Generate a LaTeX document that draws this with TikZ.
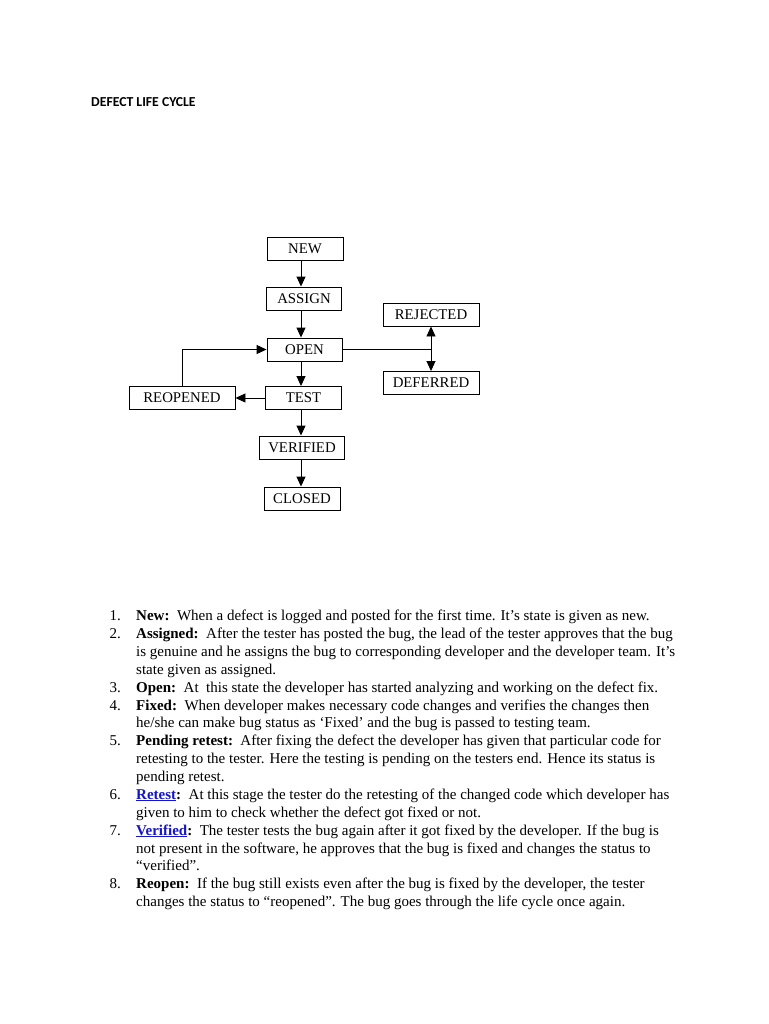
\documentclass[tikz,border=0pt]{standalone}
\usepackage{fontspec}
\setmainfont{Liberation Serif}
\newfontfamily\titlefont{Carlito}
\usetikzlibrary{arrows.meta}
\definecolor{linkblue}{RGB}{20,20,200}
\newcommand{\lnk}[1]{\textcolor{linkblue}{\underline{#1}}}
\begin{document}
\begin{tikzpicture}[x=1pt,y=-1pt,
  state/.style={draw=black,line width=0.9pt,minimum height=23pt,inner sep=0pt,font=\fontsize{14.8}{16}\selectfont},
  flow/.style={line width=0.9pt,-{Triangle[length=10pt,width=9pt]}},
  txt/.style={anchor=base west,inner sep=0pt,font=\fontsize{15}{18}\selectfont},
  num/.style={anchor=base east,inner sep=0pt,font=\fontsize{15}{18}\selectfont}]
\useasboundingbox[fill=white] (0,0) rectangle (768,1024);
\node[anchor=base west,inner sep=0pt,font=\titlefont\bfseries\fontsize{13.7}{16}\selectfont] (title) at (91,106.5) {DEFECT LIFE CYCLE};
% states
\node[state,minimum width=76pt] (new) at (305,248.5) {NEW};
\node[state,minimum width=75pt] (assign) at (304,298.5) {ASSIGN};
\node[state,minimum width=75pt] (open) at (304.5,349.5) {OPEN};
\node[state,minimum width=96pt] (rejected) at (431,314.5) {REJECTED};
\node[state,minimum width=96pt] (deferred) at (431,383) {DEFERRED};
\node[state,minimum width=106pt] (reopened) at (182,398) {REOPENED};
\node[state,minimum width=76pt] (test) at (303.5,398) {TEST};
\node[state,minimum width=85pt] (verified) at (302,447.5) {VERIFIED};
\node[state,minimum width=76pt] (closed) at (302,498.5) {CLOSED};
\coordinate (axis) at (301,0);
% connectors
\draw[flow] (new.south -| axis) -- (assign.north -| axis);
\draw[flow] (assign.south -| axis) -- (open.north -| axis);
\draw[flow] (open.south -| axis) -- (test.north -| axis);
\draw[flow] (test.south -| axis) -- (verified.north -| axis);
\draw[flow] (verified.south -| axis) -- (closed.north -| axis);
\draw[flow] (test.west) -- (reopened.east);
\draw[flow] (reopened.north) |- (open.west);
\coordinate (j) at (rejected.south |- open.east);
\draw[line width=0.9pt] (open.east) -- (j);
\draw[line width=0.9pt,{Triangle[length=10pt,width=9pt]}-{Triangle[length=10pt,width=9pt]}] (rejected.south) -- (deferred.north);
% list
\node[num] (n1) at (121,620) {1.};
\node[txt] (l1) at (136,620) {\textbf{New:}\ \ When a defect is logged and posted for the first time. It’s state is given as new.};
\node[num] (n2) at (121,638) {2.};
\node[txt] (l2) at (136,638) {\textbf{Assigned:}\ \ After the tester has posted the bug, the lead of the tester approves that the bug};
\node[txt] (l2b) at (136,656) {is genuine and he assigns the bug to corresponding developer and the developer team. It’s};
\node[txt] (l2c) at (136,674) {state given as assigned.};
\node[num] (n3) at (121,692) {3.};
\node[txt] (l3) at (136,692) {\textbf{Open:}\ \ At\ \ this state the developer has started analyzing and working on the defect fix.};
\node[num] (n4) at (121,710) {4.};
\node[txt] (l4) at (136,710) {\textbf{Fixed:}\ \ When developer makes necessary code changes and verifies the changes then};
\node[txt] (l4b) at (136,727) {he/she can make bug status as ‘Fixed’ and the bug is passed to testing team.};
\node[num] (n5) at (121,745) {5.};
\node[txt] (l5) at (136,745) {\textbf{Pending retest:}\ \ After fixing the defect the developer has given that particular code for};
\node[txt] (l5b) at (136,763) {retesting to the tester. Here the testing is pending on the testers end. Hence its status is};
\node[txt] (l5c) at (136,781) {pending retest.};
\node[num] (n6) at (121,799) {6.};
\node[txt] (l6) at (136,799) {\textbf{\lnk{Retest}:}\ \ At this stage the tester do the retesting of the changed code which developer has};
\node[txt] (l6b) at (136,817) {given to him to check whether the defect got fixed or not.};
\node[num] (n7) at (121,835) {7.};
\node[txt] (l7) at (136,835) {\textbf{\lnk{Verified}:}\ \ The tester tests the bug again after it got fixed by the developer. If the bug is};
\node[txt] (l7b) at (136,853) {not present in the software, he approves that the bug is fixed and changes the status to};
\node[txt] (l7c) at (136,870) {“verified”.};
\node[num] (n8) at (121,888) {8.};
\node[txt] (l8) at (136,888) {\textbf{Reopen:}\ \ If the bug still exists even after the bug is fixed by the developer, the tester};
\node[txt] (l8b) at (136,906) {changes the status to “reopened”. The bug goes through the life cycle once again.};
\end{tikzpicture}
\end{document}
